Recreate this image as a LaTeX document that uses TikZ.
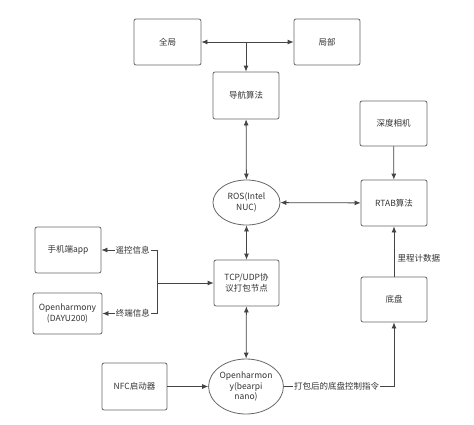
\documentclass[tikz,border=0pt]{standalone}
\usepackage{fontspec}
\setmainfont{Noto Sans CJK SC}
\usetikzlibrary{arrows.meta,shapes.geometric}
\definecolor{ln}{HTML}{444444}
\definecolor{bd}{HTML}{666666}
\definecolor{tx}{HTML}{333333}
\begin{document}
\begin{tikzpicture}[x=1pt,y=-1pt,
  font=\fontsize{8.5}{10.5}\selectfont, text=tx,
  box/.style={draw=bd, line width=0.8pt, rounded corners=2pt, minimum width=#1, align=center, inner sep=0pt},
  box/.default=66pt,
  oval/.style={ellipse, draw=bd, line width=0.8pt, align=center, inner sep=0pt},
  conn/.style={draw=ln, line width=0.8pt, -{Latex[length=6pt,width=5pt]}},
  bconn/.style={draw=ln, line width=0.8pt, {Latex[length=6pt,width=5pt]}-{Latex[length=6pt,width=5pt]}},
  lbl/.style={fill=white, inner sep=1pt, text=tx}]
\useasboundingbox (0,0) rectangle (474,424);
\fill[white] (0,0) rectangle (474,424);

\node[box=67pt, minimum height=46pt] (quanju) at (167.5,42) {全局};
\node[box, minimum height=46pt] (jubu) at (327,42) {局部};
\node[box, minimum height=47pt] (daohang) at (246,95.5) {导航算法};
\node[oval, minimum width=67pt, minimum height=45pt] (ros) at (246.5,202.5) {ROS(Intel\\NUC)};
\node[box, minimum height=46pt] (rtab) at (394,203) {RTAB算法};
\node[box=67pt, minimum height=45pt] (shendu) at (393.5,123.5) {深度相机};
\node[box=65pt, minimum height=46pt] (tcp) at (246.5,283) {TCP/UDP协\\议打包节点};
\node[box, minimum height=46pt] (phone) at (68,250) {手机端app};
\node[box=69pt, minimum height=41pt] (dayu) at (67.5,313.5) {Openharmony\\(DAYU200)};
\node[oval, minimum width=66pt, minimum height=55pt] (bear) at (246,386.5) {Openharmon\\y(bearpi\\nano)};
\node[box=65pt, minimum height=47pt] (nfc) at (134.5,386.5) {NFC启动器};
\node[box, minimum height=45pt] (dipan) at (394,299.5) {底盘};

\coordinate (j1) at (246,42);
\coordinate (j2) at (157,283);

\draw[conn] (j1) -- (quanju);
\draw[conn] (j1) -- (jubu);
\draw[conn] (j1) -- (daohang);
\draw[bconn] (daohang) -- (ros);
\draw[bconn] (ros) -- (rtab);
\draw[conn] (shendu) -- (rtab);
\draw[conn] (dipan) -- node[right, pos=0.37, text=tx] {里程计数据} (rtab);
\draw[bconn] (ros) -- (tcp);
\draw[bconn] (tcp) -- (bear);
\draw[conn] (nfc) -- (bear);
\draw[conn] (bear) -| node[lbl, pos=0.24] {打包后的底盘控制指令} (dipan);
\draw[conn] (j2) -- (tcp);
\draw[conn] (j2) |- node[lbl, pos=0.72] {遥控信息} (phone);
\draw[conn] (j2) |- node[lbl, pos=0.72] {终端信息} (dayu);
\end{tikzpicture}
\end{document}
